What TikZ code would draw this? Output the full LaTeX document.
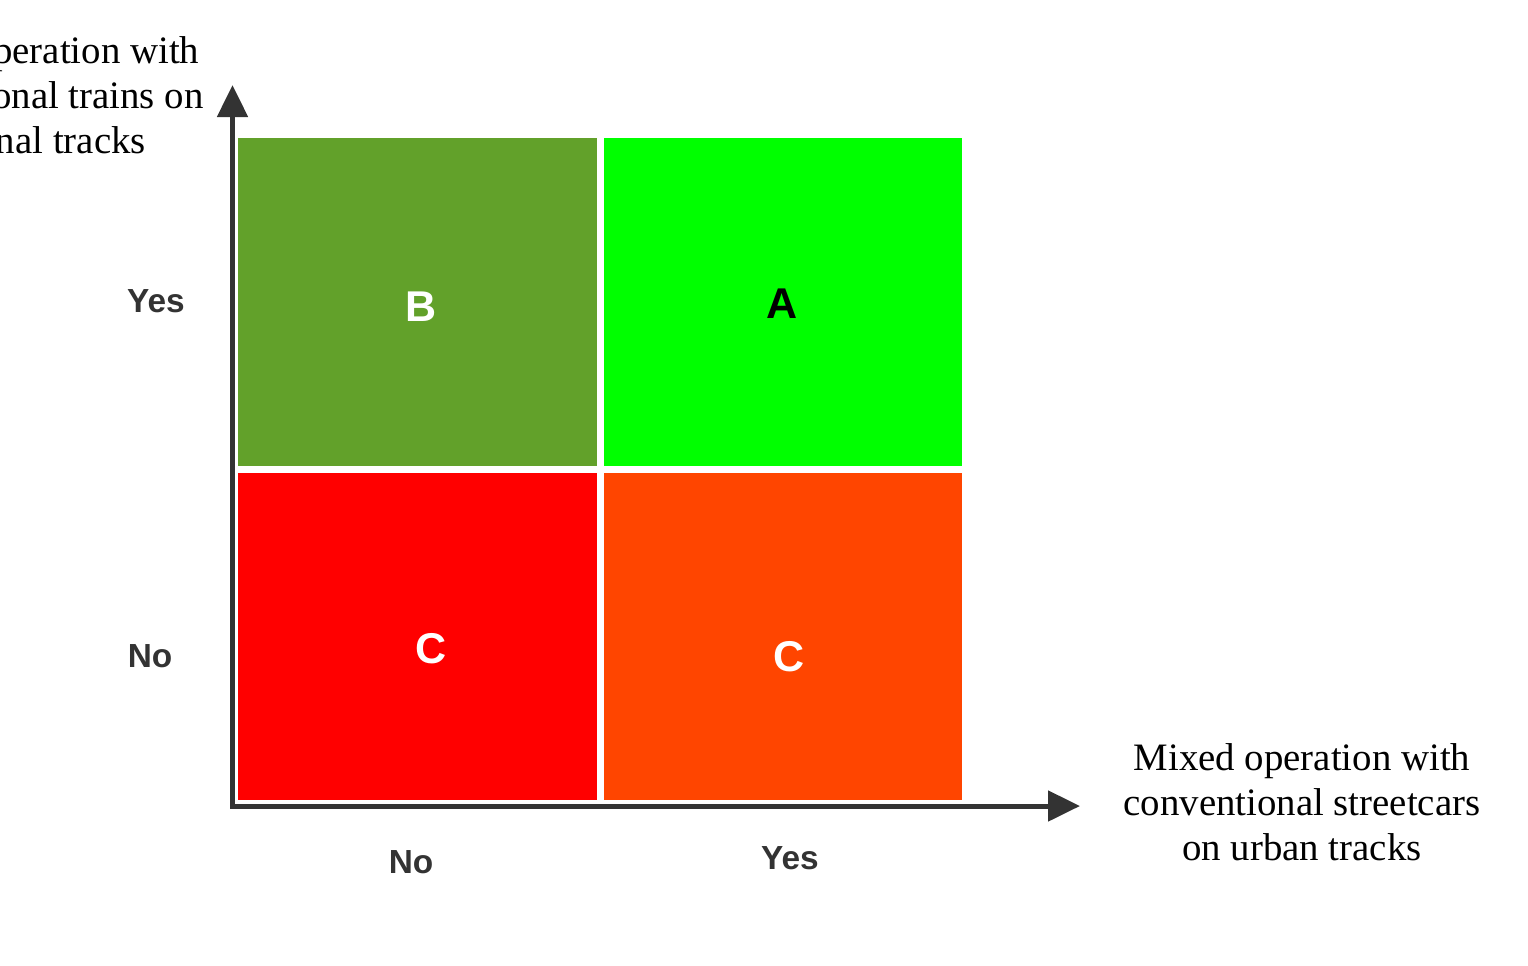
\documentclass[tikz,border=0pt]{standalone}
\usepackage{fontspec}
\setmainfont{Liberation Serif}
\newfontfamily\arialfont{Liberation Sans}
\usetikzlibrary{arrows.meta}

\definecolor{darkgreen}{RGB}{98,161,42}
\definecolor{lightgreen}{RGB}{0,255,0}
\definecolor{brightred}{RGB}{255,0,0}
\definecolor{orangered}{RGB}{255,69,0}
\definecolor{axisgray}{RGB}{51,51,51}

\begin{document}
\begin{tikzpicture}[x=0.02cm, y=-0.02cm,
    every node/.style={inner sep=0pt, outer sep=0pt},
    field/.style={minimum width=7.18cm, minimum height=6.56cm},
    letter/.style={font=\arialfont\bfseries\fontsize{24.5}{28}\selectfont},
    tick/.style={font=\arialfont\bfseries\fontsize{19}{22}\selectfont, text=axisgray},
    caption/.style={font=\fontsize{22.1}{25.6}\selectfont, align=center},
    axis/.style={line width=0.1cm, line cap=rect, axisgray, -{Triangle[length=0.64cm, width=0.6cm]}}]
    \clip (0,0) rectangle (1528,965);

    % Felder
    \node[field, fill=darkgreen] (fieldB) at (417.5,302) {};
    \node[field, fill=lightgreen] (fieldA) at (783,302) {};
    \node[field, fill=brightred] (fieldCl) at (417.5,636.5) {};
    \node[field, fill=orangered] (fieldCr) at (783,636.5) {};

    \node[letter, text=white] (labB) at (421,307) {B};
    \node[letter, text=black] (labA) at (782,304) {A};
    \node[letter, text=white] (labCl) at (431,649) {C};
    \node[letter, text=white] (labCr) at (789,657) {C};

    % Achsen
    \coordinate (origin) at (232.5,806);
    \coordinate (ytip) at (232.5,85);
    \coordinate (xtip) at (1080,806);
    \draw[axis] (origin) -- (ytip);
    \draw[axis] (origin) -- (xtip);

    % Achsenbeschriftung
    \node[tick] (yyes) at (156,301) {Yes};
    \node[tick] (yno) at (150,656) {No};
    \node[tick] (xno) at (411,862) {No};
    \node[tick] (xyes) at (790,858) {Yes};

    \node[caption] (ycap) at (31,99) {Mixed operation with\\conventional trains on\\regional tracks};
    \node[caption] (xcap) at (1302,802) {Mixed operation with\\conventional streetcars\\on urban tracks};
\end{tikzpicture}
\end{document}
